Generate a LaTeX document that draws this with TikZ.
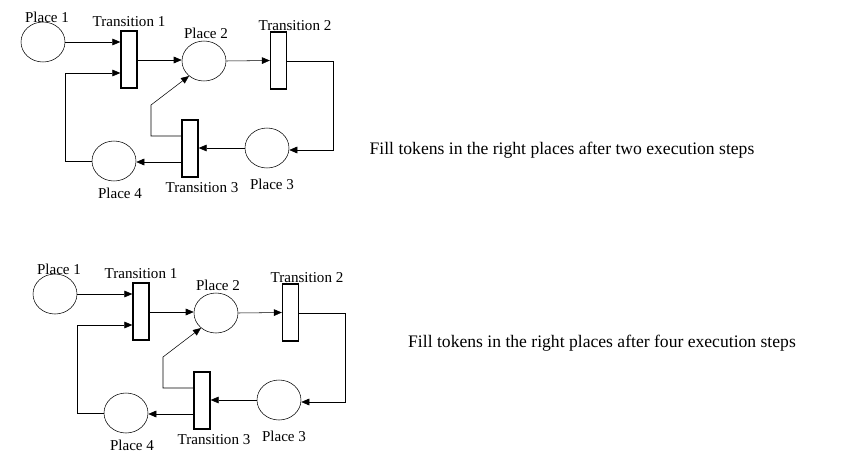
\documentclass[tikz,border=0pt]{standalone}
\usepackage{fontspec}
\setmainfont{Liberation Serif}
\usetikzlibrary{arrows.meta,shapes.geometric}
\begin{document}
\begin{tikzpicture}[x=0.75pt,y=-0.75pt,
  place/.style={draw,ellipse,minimum width=33pt,minimum height=30pt,inner sep=0},
  trans/.style={draw,line width=1pt,minimum width=12pt,minimum height=42.75pt,inner sep=0},
  arc/.style={-{Triangle[length=6pt,width=5pt]}},
  lbl/.style={font=\fontsize{11.3}{13}\selectfont,inner sep=0},
  txt/.style={font=\fontsize{13.2}{15}\selectfont,inner sep=0}]
\useasboundingbox (0,0) rectangle (854,461);
\newcommand\petrinet{%
  \node[place] (p1) at (43,42) {};
  \node[trans] (t1) at (129,59.5) {};
  \node[place] (p2) at (204,61) {};
  \node[trans] (t2) at (278.5,60.5) {};
  \node[place] (p3) at (267,148) {};
  \node[trans] (t3) at (190,148.5) {};
  \node[place] (p4) at (114,161) {};
  \node[lbl] (l1) at (47,17) {Place 1};
  \node[lbl] (l2) at (129,22) {Transition 1};
  \node[lbl] (l3) at (206,33) {Place 2};
  \node[lbl] (l4) at (295,26) {Transition 2};
  \node[lbl] (l5) at (120,193) {Place 4};
  \node[lbl] (l6) at (202,188) {Transition 3};
  \node[lbl] (l7) at (272,184) {Place 3};
  \coordinate (c1) at (333,61);
  \coordinate (c2) at (333,150);
  \coordinate (c3) at (65,161);
  \coordinate (c4) at (65,73);
  \coordinate (c5) at (151,136);
  \coordinate (c6) at (151,105);
  \draw[arc] (p1.east |- 0,42) -- (t1.west |- 0,42);
  \draw[arc] (t1.east |- 0,60) -- (p2.west |- 0,60);
  \draw[arc] (p2.east) -- (t2.west);
  \draw[arc] (t2.east |- c1) -- (c1) -- (c2) -- (p3.east |- c2);
  \draw[arc] (p3.west) -- (t3.east |- p3.west);
  \draw[arc] (t3.west |- 0,162) -- (p4.east |- 0,162);
  \draw[arc] (p4.west) -- (c3) -- (c4) -- (t1.west |- c4);
  \draw[arc] (t3.west |- c5) -- (c5) -- (c6) -- (p2.225);
}
\begin{scope}[name prefix=a-]\petrinet\end{scope}
\begin{scope}[shift={(12,252)},name prefix=b-]\petrinet\end{scope}
\node[txt] (s1) at (562,150) {Fill tokens in the right places after two execution steps};
\node[txt] (s2) at (602,343) {Fill tokens in the right places after four execution steps};
\end{tikzpicture}
\end{document}
